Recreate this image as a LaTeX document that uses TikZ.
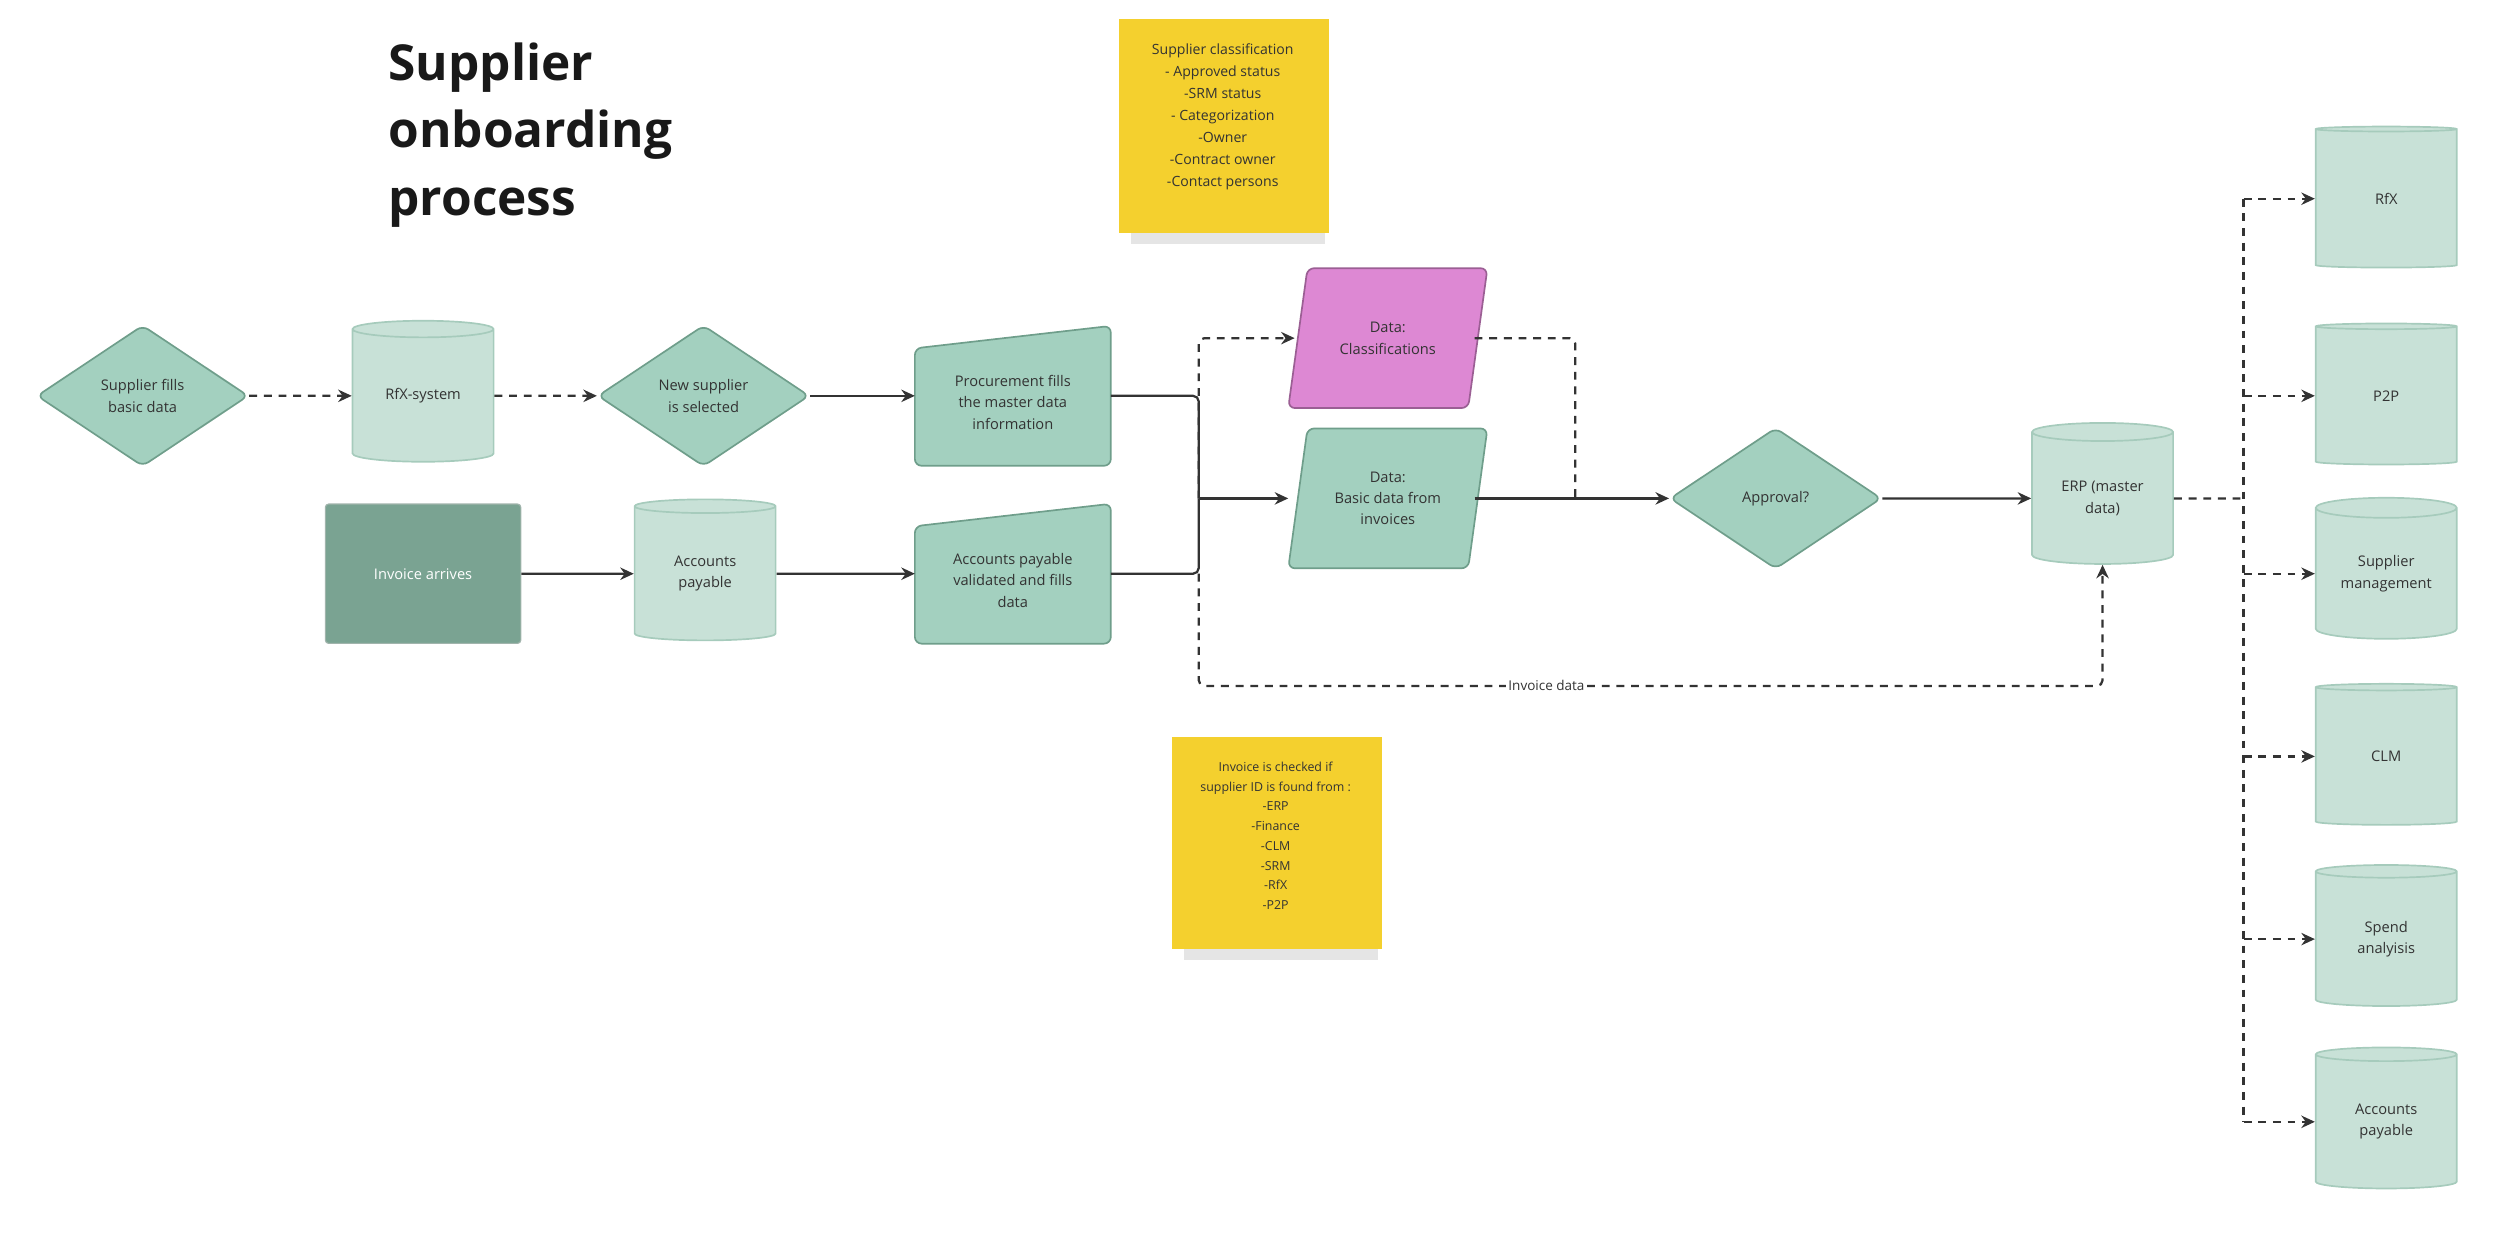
\documentclass[tikz,border=0pt]{standalone}
\usepackage{fontspec}
\setmainfont{Open Sans}
\usetikzlibrary{shapes.geometric,arrows.meta,calc}
\definecolor{dia}{HTML}{A3D0BF}
\definecolor{diab}{HTML}{6F9E8B}
\definecolor{cyl}{HTML}{C8E1D7}
\definecolor{cylb}{HTML}{A6CBBC}
\definecolor{dark}{HTML}{7AA392}
\definecolor{pink}{HTML}{DD88D3}
\definecolor{sticky}{HTML}{F4D02E}
\definecolor{ln}{HTML}{333333}
\tikzset{
  txt/.style={font=\fontsize{13}{19}\selectfont,text=ln,align=center},
  dia/.style={txt,diamond,aspect=1.5,minimum width=66mm,minimum height=44mm,inner sep=0,fill=dia,draw=diab,line width=1.5pt,rounded corners=6pt},
  cyl/.style={txt,cylinder,shape border rotate=90,aspect=0.22,minimum width=44mm,minimum height=44mm,inner sep=0,draw=cylb,fill=cyl,line width=1.5pt},
  box/.style={txt,rectangle,minimum width=61mm,minimum height=43.5mm,inner sep=0},
  shp/.style={line width=1.5pt,rounded corners=6pt},
  con/.style={draw=ln,line width=2pt,-{Stealth[length=12pt,width=11pt]}},
  dsh/.style={con,dash pattern=on 7pt off 6pt},
  dshn/.style={draw=ln,line width=2pt,dash pattern=on 7pt off 6pt},
  note/.style={txt,rectangle,fill=sticky,minimum width=65.5mm,minimum height=66.5mm,inner sep=0,anchor=north west}
}
\begin{document}
\begin{tikzpicture}[x=0.5mm,y=-0.5mm]
\useasboundingbox (0,0) rectangle (1560,772);
% title
\node[anchor=north west,align=left,font=\fontsize{44}{60}\bfseries\selectfont,text=black!90] (title) at (240,24) {Supplier\\onboarding\\process};
% sticky notes
\fill[black,opacity=0.10] (706,140) rectangle (827,152);
\fill[black,opacity=0.10] (739,587) rectangle (860,599);
\node[note] (n1) at (698,12) {};
\node[txt,anchor=north,font=\fontsize{12.5}{19.5}\selectfont] (n1t) at (763,25) {Supplier classification\\- Approved status\\-SRM status\\- Categorization\\-Owner\\-Contract owner\\-Contact persons};
\node[note,minimum height=66mm] (n2) at (731,460) {};
\node[txt,anchor=north,font=\fontsize{11}{17.5}\selectfont] (n2t) at (796,473) {Invoice is checked if\\supplier ID is found from :\\-ERP\\-Finance\\-CLM\\-SRM\\-RfX\\-P2P};
% row 1
\node[dia] (s1) at (89,247) {Supplier fills\\basic data};
\node[cyl] (rfxs) at (264,247) {RfX-system};
\node[dia] (ns) at (439,247) {New supplier\\is selected};
\node[box] (pf) at (632,247) {};
\draw[shp,fill=dia,draw=diab] (pf.south west) -- ($(pf.north west)+(0,14)$) -- (pf.north east) -- (pf.south east) -- cycle;
\node[txt] at ($(pf.center)+(0,4)$) {Procurement fills\\the master data\\information};
% row 2
\node[box,fill=dark,draw=dark!80!black!60,line width=1pt,rounded corners=3pt,text=white] (ia) at (264,358) {Invoice arrives};
\node[cyl] (ap) at (440,358) {Accounts\\payable};
\node[box] (apv) at (632,358) {};
\draw[shp,fill=dia,draw=diab] (apv.south west) -- ($(apv.north west)+(0,14)$) -- (apv.north east) -- (apv.south east) -- cycle;
\node[txt] at ($(apv.center)+(0,4)$) {Accounts payable\\validated and fills\\data};
% data parallelograms
\node[box,minimum width=56mm] (cl) at (866,211) {};
\draw[shp,fill=pink,draw=pink!70!black] ($(cl.south west)+(-6,0)$) -- ($(cl.north west)+(6,0)$) -- ($(cl.north east)+(6,0)$) -- ($(cl.south east)+(-6,0)$) -- cycle;
\node[txt] at (cl.center) {Data:\\Classifications};
\node[box,minimum width=56mm] (bd) at (866,311) {};
\draw[shp,fill=dia,draw=diab] ($(bd.south west)+(-6,0)$) -- ($(bd.north west)+(6,0)$) -- ($(bd.north east)+(6,0)$) -- ($(bd.south east)+(-6,0)$) -- cycle;
\node[txt] at (bd.center) {Data:\\Basic data from\\invoices};
\node[dia] (appr) at (1108,311) {Approval?};
\node[cyl] (erp) at (1312,311) {ERP (master\\data)};
% right column
\foreach \n/\y/\t in {r1/124/RfX,r2/247/P2P,r3/358/{Supplier\\management},r4/472/CLM,r5/586/{Spend\\analyisis},r6/700/{Accounts\\payable}}
  \node[cyl] (\n) at (1489,\y) {\t};
\coordinate (bus) at (1400,311);
% connectors
\draw[dsh] (s1.east) -- (rfxs.west);
\draw[dsh] (rfxs.east) -- (ns.west);
\draw[con] (ns.east) -- (pf.west);
\draw[con] (ia.east) -- (ap.west);
\draw[con] (ap.east) -- (apv.west);
\coordinate (j) at (748,311);
\coordinate (j2) at (748,358);
\draw[draw=ln,line width=2pt,rounded corners=5pt] (pf.east) -| (j);
\draw[draw=ln,line width=2pt,rounded corners=5pt] (apv.east) -| (j);
\draw[con] (j) -- ($(bd.west)+(-6,0)$);
\draw[dsh,rounded corners=5pt] (j) |- ($(cl.west)+(-2,0)$);
\coordinate (m) at (983,311);
\draw[dshn,rounded corners=5pt] ($(cl.east)+(-2,0)$) -| (m);
\draw[con] ($(bd.east)+(-2,0)$) -- (appr.west);
\draw[con] (appr.east) -- (erp.west);
\draw[dsh,rounded corners=5pt] (j2) -- (748,428) -| (erp.south);
\node[txt,fill=white,inner sep=2pt,font=\fontsize{12}{14}\selectfont] (idl) at (965,428) {Invoice data};
\draw[dshn] (erp.east) -- (bus);
\coordinate (bt) at (1400,124);
\coordinate (bb) at (1400,700);
\draw[dshn] (bt) -- (bb);
\foreach \n in {r1,r2,r3,r4,r5,r6}
  \draw[dsh] (\n.west -| bus) -- (\n.west);
\end{tikzpicture}
\end{document}
